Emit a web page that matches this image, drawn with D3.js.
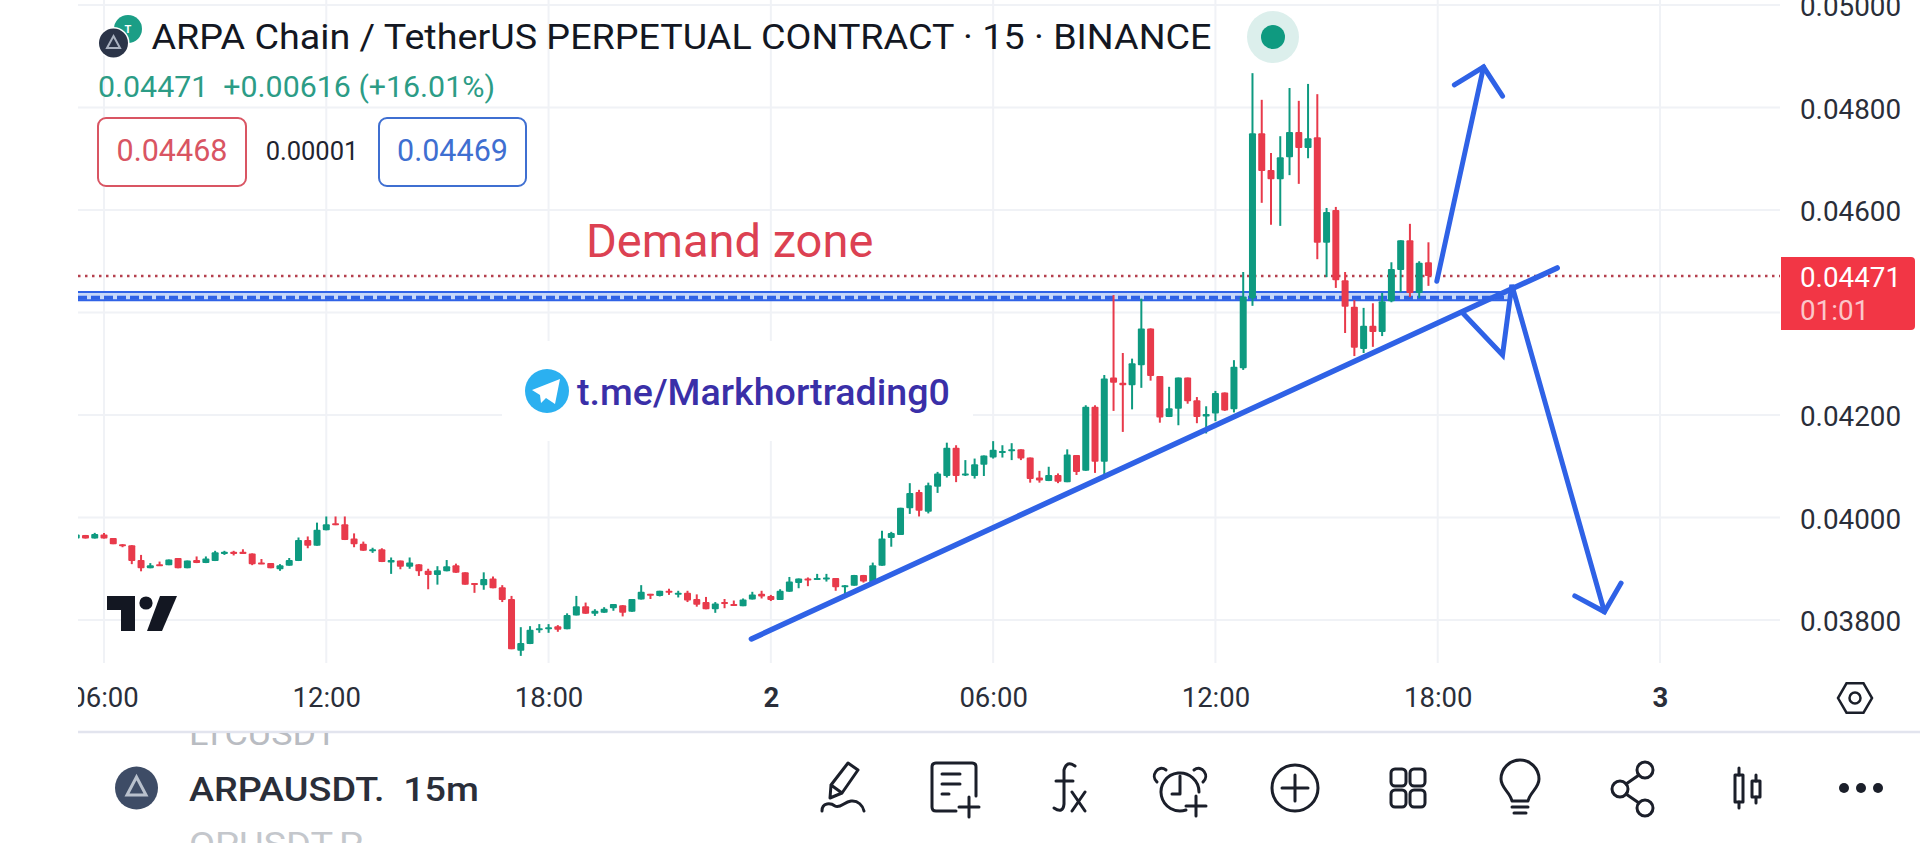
<!DOCTYPE html>
<html>
<head>
<meta charset="utf-8">
<script src="https://cdnjs.cloudflare.com/ajax/libs/d3/7.8.5/d3.min.js"></script>
<style>
  html, body { margin: 0; padding: 0; background: #fff; overflow: hidden; }
  text { font-family: Roboto, sans-serif; }
</style>
</head>
<body>
<div id="myViz"></div>
<script>
// 15m candles, first one is 05:15 on day 1
var opens = [
0.03959,0.03966,0.03959,0.03967,0.03960,0.03948,0.03946,0.03917,0.03901,0.03909,
0.03907,0.03921,0.03901,0.03917,0.03911,0.03915,0.03929,0.03933,0.03933,0.03930,
0.03912,0.03911,0.03899,0.03906,0.03915,0.03956,0.03945,0.03975,0.03989,0.03987,
0.03959,0.03949,0.03934,0.03938,0.03912,0.03916,0.03904,0.03909,0.03896,0.03888,
0.03895,0.03907,0.03893,0.03872,0.03868,0.03881,0.03864,0.03841,0.03740,0.03753,
0.03781,0.03782,0.03788,0.03782,0.03809,0.03827,0.03812,0.03814,0.03823,0.03829,
0.03816,0.03840,0.03851,0.03847,0.03857,0.03850,0.03853,0.03841,0.03835,0.03821,
0.03835,0.03831,0.03827,0.03840,0.03851,0.03847,0.03839,0.03855,0.03872,0.03881,
0.03879,0.03879,0.03882,0.03866,0.03867,0.03888,0.03873,0.03906,0.03960,0.03966,
0.04018,0.04050,0.04011,0.04060,0.04081,0.04136,0.04083,0.04081,0.04103,0.04117,
0.04128,0.04130,0.04133,0.04117,0.04078,0.04071,0.04083,0.04069,0.04122,0.04091,
0.04216,0.04109,0.04273,0.04263,0.04258,0.04297,0.04369,0.04276,0.04196,0.04212,
0.04273,0.04229,0.04197,0.04203,0.04244,0.04211,0.04291,0.04428,0.04750,0.04678,
0.04660,0.04703,0.04752,0.04721,0.04742,0.04536,0.04600,0.04463,0.04411,0.04329,
0.04374,0.04362,0.04422,0.04483,0.04541,0.04438,0.04498];

var highs = [
0.03967,0.03966,0.03970,0.03970,0.03960,0.03948,0.03946,0.03927,0.03911,0.03914,
0.03918,0.03921,0.03916,0.03924,0.03924,0.03935,0.03935,0.03935,0.03938,0.03930,
0.03919,0.03911,0.03909,0.03921,0.03961,0.03963,0.03990,0.04002,0.04002,0.04002,
0.03969,0.03953,0.03941,0.03940,0.03922,0.03916,0.03922,0.03909,0.03900,0.03905,
0.03917,0.03910,0.03893,0.03872,0.03893,0.03885,0.03868,0.03847,0.03786,0.03788,
0.03792,0.03792,0.03790,0.03813,0.03847,0.03834,0.03821,0.03825,0.03831,0.03829,
0.03841,0.03868,0.03851,0.03857,0.03861,0.03857,0.03857,0.03850,0.03845,0.03835,
0.03841,0.03838,0.03842,0.03855,0.03857,0.03849,0.03860,0.03884,0.03881,0.03883,
0.03890,0.03890,0.03882,0.03868,0.03888,0.03888,0.03912,0.03974,0.03972,0.04019,
0.04067,0.04054,0.04068,0.04089,0.04146,0.04141,0.04112,0.04115,0.04121,0.04149,
0.04141,0.04145,0.04133,0.04117,0.04091,0.04099,0.04086,0.04133,0.04122,0.04219,
0.04219,0.04278,0.04434,0.04321,0.04310,0.04427,0.04369,0.04276,0.04255,0.04273,
0.04273,0.04235,0.04217,0.04247,0.04244,0.04307,0.04479,0.04867,0.04815,0.04711,
0.04744,0.04838,0.04813,0.04846,0.04826,0.04604,0.04606,0.04479,0.04424,0.04409,
0.04418,0.04438,0.04498,0.04541,0.04573,0.04500,0.04537];

var lows = [
0.03959,0.03959,0.03959,0.03959,0.03948,0.03942,0.03909,0.03895,0.03901,0.03906,
0.03907,0.03901,0.03901,0.03911,0.03911,0.03915,0.03927,0.03926,0.03929,0.03907,
0.03909,0.03901,0.03896,0.03906,0.03915,0.03940,0.03945,0.03975,0.03985,0.03956,
0.03942,0.03935,0.03931,0.03913,0.03890,0.03899,0.03900,0.03886,0.03860,0.03869,
0.03895,0.03892,0.03869,0.03853,0.03859,0.03862,0.03835,0.03743,0.03730,0.03753,
0.03775,0.03775,0.03777,0.03782,0.03809,0.03812,0.03808,0.03814,0.03818,0.03807,
0.03816,0.03840,0.03841,0.03846,0.03849,0.03844,0.03835,0.03826,0.03821,0.03814,
0.03823,0.03828,0.03827,0.03840,0.03842,0.03837,0.03839,0.03855,0.03862,0.03866,
0.03879,0.03875,0.03857,0.03846,0.03867,0.03873,0.03873,0.03906,0.03943,0.03966,
0.04007,0.04002,0.04008,0.04048,0.04078,0.04069,0.04081,0.04076,0.04081,0.04115,
0.04117,0.04112,0.04112,0.04068,0.04068,0.04071,0.04067,0.04069,0.04083,0.04091,
0.04087,0.04080,0.04208,0.04167,0.04211,0.04253,0.04267,0.04185,0.04196,0.04180,
0.04222,0.04184,0.04164,0.04188,0.04208,0.04205,0.04288,0.04413,0.04614,0.04571,
0.04569,0.04668,0.04651,0.04701,0.04504,0.04469,0.04448,0.04360,0.04315,0.04321,
0.04333,0.04354,0.04420,0.04440,0.04430,0.04428,0.04452];

var closes = [
0.03967,0.03959,0.03968,0.03959,0.03948,0.03944,0.03915,0.03901,0.03907,0.03906,
0.03918,0.03901,0.03916,0.03911,0.03920,0.03932,0.03933,0.03929,0.03929,0.03909,
0.03909,0.03901,0.03907,0.03917,0.03956,0.03945,0.03976,0.03987,0.03985,0.03956,
0.03948,0.03935,0.03938,0.03913,0.03917,0.03904,0.03912,0.03895,0.03888,0.03897,
0.03905,0.03892,0.03869,0.03870,0.03880,0.03862,0.03839,0.03743,0.03755,0.03781,
0.03784,0.03786,0.03781,0.03810,0.03827,0.03812,0.03818,0.03822,0.03831,0.03814,
0.03841,0.03855,0.03848,0.03857,0.03853,0.03853,0.03838,0.03830,0.03821,0.03832,
0.03831,0.03828,0.03840,0.03850,0.03846,0.03839,0.03857,0.03875,0.03881,0.03878,
0.03882,0.03883,0.03864,0.03868,0.03888,0.03875,0.03907,0.03959,0.03970,0.04019,
0.04048,0.04013,0.04063,0.04086,0.04136,0.04081,0.04086,0.04104,0.04121,0.04132,
0.04130,0.04133,0.04115,0.04075,0.04072,0.04083,0.04070,0.04123,0.04089,0.04216,
0.04109,0.04271,0.04263,0.04258,0.04301,0.04369,0.04276,0.04195,0.04213,0.04273,
0.04227,0.04196,0.04202,0.04243,0.04209,0.04294,0.04431,0.04750,0.04676,0.04660,
0.04703,0.04752,0.04721,0.04740,0.04536,0.04596,0.04463,0.04411,0.04331,0.04374,
0.04362,0.04422,0.04485,0.04541,0.04438,0.04497,0.04471];

// axis ticks
var priceTicks = [0.05, 0.048, 0.046, 0.044, 0.042, 0.04, 0.038];
var priceLabels = [0.05, 0.048, 0.046, 0.042, 0.04, 0.038];
var timeHours = [6, 12, 18, 24, 30, 36, 42, 48];   // hours after 00:00 of day 1
var timeLabels = ["06:00", "12:00", "18:00", "2", "06:00", "12:00", "18:00", "3"];

// last price and header numbers
var lastPrice = 0.04471;
var zonePrices = [0.04440, 0.04424];
var zoneDash = 0.04429;
var zoneEndBar = 152;

// hand drawn lines, bars counted in 15m steps from 06:00, price on the y scale
var trendBars = [69.9, 156.9];
var trendPrices = [0.03763, 0.04487];
var upBars = [143.9, 148.95];
var upPrices = [0.04461, 0.04879];
var upWingBars = [145.8, 148.95, 151];
var upWingPrices = [0.04844, 0.04879, 0.04822];
var zigBars = [146.7, 151, 152, 162];
var zigPrices = [0.04399, 0.04317, 0.04454, 0.03816];
var downWingBars = [158.8, 162, 163.8];
var downWingPrices = [0.03847, 0.03816, 0.03872];

var width = 1920, height = 843;
var paneLeft = 78, paneRight = 1780, paneBottom = 663;
var green = "#0e9a80", red = "#e83a4b", blue = "#2f62e6", ink = "#1b1f2a";

var svg = d3.select("#myViz").append("svg")
  .attr("width", width)
  .attr("height", height)
  .style("display", "block");

var day1 = Date.UTC(2023, 5, 1);
function hourDate(h) { return new Date(day1 + h * 3600000); }
function barDate(k) { return new Date(day1 + 6 * 3600000 + k * 900000); }

var x = d3.scaleUtc()
  .domain([hourDate(6), hourDate(48)])
  .range([104, 1660]);
var y = d3.scaleLinear()
  .domain([0.038, 0.05])
  .range([620, 5]);

var bars = opens.map(function(o, i) {
  return { t: barDate(i - 3), o: o, h: highs[i], l: lows[i], c: closes[i] };
});

var defs = svg.append("defs");
defs.append("clipPath").attr("id", "pane").append("rect")
  .attr("x", paneLeft).attr("y", 0).attr("width", paneRight - paneLeft).attr("height", paneBottom);
defs.append("clipPath").attr("id", "timeClip").append("rect")
  .attr("x", paneLeft).attr("y", paneBottom).attr("width", paneRight - paneLeft).attr("height", 66);
defs.append("clipPath").attr("id", "listClip").append("rect")
  .attr("x", 0).attr("y", 733).attr("width", width).attr("height", 110);

// grid
var grid = svg.append("g").attr("stroke", "#f0f2f6").attr("stroke-width", 2);
grid.selectAll(".h").data(priceTicks).enter().append("line")
  .attr("x1", paneLeft).attr("x2", paneRight)
  .attr("y1", function(d) { return y(d); }).attr("y2", function(d) { return y(d); });
grid.selectAll(".v").data(timeHours).enter().append("line")
  .attr("x1", function(d) { return x(hourDate(d)); }).attr("x2", function(d) { return x(hourDate(d)); })
  .attr("y1", 0).attr("y2", paneBottom);

// white sticker behind the telegram link hides the grid
svg.append("rect").attr("x", 502).attr("y", 341).attr("width", 471).attr("height", 100).attr("fill", "#fff");

var pane = svg.append("g").attr("clip-path", "url(#pane)");

// last price line
pane.append("line")
  .attr("x1", paneLeft).attr("x2", paneRight)
  .attr("y1", y(lastPrice)).attr("y2", y(lastPrice))
  .attr("stroke", "#b5404e").attr("stroke-width", 2.5)
  .attr("stroke-dasharray", "2.5 4.5");

// demand zone
var zoneRight = x(barDate(zoneEndBar));
pane.append("rect")
  .attr("x", paneLeft).attr("width", zoneRight - paneLeft)
  .attr("y", y(zonePrices[0])).attr("height", y(zonePrices[1]) - y(zonePrices[0]))
  .attr("fill", "#c6d7f9");
zonePrices.forEach(function(p) {
  pane.append("line")
    .attr("x1", paneLeft).attr("x2", zoneRight)
    .attr("y1", y(p)).attr("y2", y(p))
    .attr("stroke", blue).attr("stroke-width", 2);
});
pane.append("line")
  .attr("x1", paneLeft).attr("x2", zoneRight)
  .attr("y1", y(zoneDash)).attr("y2", y(zoneDash))
  .attr("stroke", blue).attr("stroke-width", 4)
  .attr("stroke-dasharray", "9 4");

// candles
function candleColor(d) { return d.c >= d.o ? green : red; }
pane.selectAll(".wick").data(bars).enter().append("line")
  .attr("class", "wick")
  .attr("x1", function(d) { return x(d.t); }).attr("x2", function(d) { return x(d.t); })
  .attr("y1", function(d) { return y(d.h); }).attr("y2", function(d) { return y(d.l); })
  .attr("stroke", candleColor).attr("stroke-width", 2);
pane.selectAll(".body").data(bars).enter().append("rect")
  .attr("class", "body")
  .attr("x", function(d) { return x(d.t) - 3.5; })
  .attr("width", 7)
  .attr("y", function(d) { return y(Math.max(d.o, d.c)); })
  .attr("height", function(d) { return Math.max(2, Math.abs(y(d.o) - y(d.c))); })
  .attr("rx", 1)
  .attr("fill", candleColor);

// hand drawn lines
var drawing = d3.line()
  .x(function(d) { return x(barDate(d[0])); })
  .y(function(d) { return y(d[1]); });
function drawLine(barsArr, pricesArr, w) {
  svg.append("path")
    .attr("d", drawing(d3.zip(barsArr, pricesArr)))
    .attr("fill", "none")
    .attr("stroke", blue)
    .attr("stroke-width", w)
    .attr("stroke-linecap", "round")
    .attr("stroke-linejoin", "miter");
}
drawLine(trendBars, trendPrices, 5.5);
drawLine(upBars, upPrices, 5);
drawLine(upWingBars, upWingPrices, 5);
drawLine(zigBars, zigPrices, 5);
drawLine(downWingBars, downWingPrices, 5);

// tradingview logo
var tv = svg.append("g").attr("fill", "#131722");
tv.append("path").attr("d", "M107,596H135V631H121V610H107Z");
tv.append("circle").attr("cx", 146).attr("cy", 603).attr("r", 6.6);
tv.append("path").attr("d", "M160,596H177L162,631H147Z");

// price axis
var yAxis = svg.append("g")
  .attr("transform", "translate(" + paneRight + ",0)")
  .call(d3.axisRight(y).tickValues(priceLabels).tickFormat(d3.format(".5f")).tickSize(0).tickPadding(20));
yAxis.select(".domain").remove();
yAxis.selectAll("text")
  .attr("dy", ".39em")
  .style("font-family", "Roboto, sans-serif")
  .style("font-size", "27.8px")
  .attr("fill", "#2a2e39");

// time axis, clip sits on an outer group so the leftmost label gets cut at the pane edge
var xAxis = svg.append("g")
  .attr("clip-path", "url(#timeClip)")
  .append("g")
  .attr("transform", "translate(0," + paneBottom + ")")
  .call(d3.axisBottom(x)
    .tickValues(timeHours.map(hourDate))
    .tickFormat(function(d, i) { return timeLabels[i]; })
    .tickSize(0));
xAxis.select(".domain").remove();
xAxis.selectAll("text")
  .attr("y", 44).attr("dy", 0)
  .style("font-family", "Roboto, sans-serif")
  .style("font-size", "27.5px")
  .style("font-weight", function(d, i) { return timeLabels[i].length == 1 ? 700 : 400; })
  .attr("fill", "#2a2e39");

// last price tag
svg.append("path").attr("d", "M1781,257H1911Q1915,257 1915,261V326Q1915,330 1911,330H1781Z").attr("fill", "#f23645");
svg.append("text").attr("x", 1800).attr("y", 287).text(d3.format(".5f")(lastPrice))
  .attr("font-size", 27.8).attr("fill", "#fff");
svg.append("text").attr("x", 1800).attr("y", 320).text("01:01")
  .attr("font-size", 27.8).attr("fill", "#fff").attr("fill-opacity", 0.72);

// header
svg.append("circle").attr("cx", 128).attr("cy", 29).attr("r", 14).attr("fill", "#1b9e86");
svg.append("text").attr("x", 128).attr("y", 33).attr("text-anchor", "middle").attr("font-size", 11).attr("font-weight", 700).attr("fill", "#fff").text("T");
svg.append("circle").attr("cx", 113.5).attr("cy", 43).attr("r", 16).attr("fill", "#fff");
svg.append("circle").attr("cx", 113.5).attr("cy", 43).attr("r", 14.5).attr("fill", "#2b3448");
svg.append("path").attr("d", "M113.5,36L120,48H107Z").attr("fill", "none").attr("stroke", "#aab2c0").attr("stroke-width", 2);

// the phone screenshot is a bit stretched sideways, so widths are forced with textLength
function wideText(sel, len) {
  return sel.attr("textLength", len).attr("lengthAdjust", "spacingAndGlyphs");
}
wideText(svg.append("text").attr("x", 151.5).attr("y", 49).attr("font-size", 34.5).attr("fill", "#131722")
  .text("ARPA Chain / TetherUS PERPETUAL CONTRACT · 15 · BINANCE"), 1060);
svg.append("circle").attr("cx", 1273).attr("cy", 37).attr("r", 26).attr("fill", "#dcefec");
svg.append("circle").attr("cx", 1273).attr("cy", 37).attr("r", 12).attr("fill", "#0f9a80");

wideText(svg.append("text").attr("x", 98).attr("y", 97).attr("font-size", 30).attr("fill", "#2c9c86")
  .attr("xml:space", "preserve").text("0.04471  +0.00616 (+16.01%)"), 397);

svg.append("rect").attr("x", 98).attr("y", 118).attr("width", 148).attr("height", 68).attr("rx", 8)
  .attr("fill", "#fff").attr("stroke", "#d95563").attr("stroke-width", 2);
svg.append("text").attr("x", 172).attr("y", 161).attr("text-anchor", "middle").attr("font-size", 30.5).attr("fill", "#d95563").text("0.04468");
svg.append("text").attr("x", 312).attr("y", 160).attr("text-anchor", "middle").attr("font-size", 25.5).attr("fill", "#1f2430").text("0.00001");
svg.append("rect").attr("x", 379).attr("y", 118).attr("width", 147).attr("height", 68).attr("rx", 8)
  .attr("fill", "#fff").attr("stroke", "#3f6fd1").attr("stroke-width", 2);
svg.append("text").attr("x", 452.5).attr("y", 161).attr("text-anchor", "middle").attr("font-size", 30.5).attr("fill", "#3f6fd1").text("0.04469");

// overlay texts
svg.append("text").attr("x", 586).attr("y", 257).attr("font-size", 47).attr("fill", "#dc4152").text("Demand zone");
svg.append("circle").attr("cx", 547).attr("cy", 391).attr("r", 22).attr("fill", "#2bb0f0");
svg.append("path").attr("d", "M532,390L560,379L555,404L546,398L541,403L540,395Z").attr("fill", "#fff");
wideText(svg.append("text").attr("x", 577).attr("y", 405).attr("font-size", 36.5).attr("font-weight", 500).attr("fill", "#3a2fa8")
  .text("t.me/Markhortrading0"), 373);

// settings hexagon
var hexPts = d3.range(6).map(function(i) {
  var a = Math.PI / 3 * i;
  return [1855 + 17 * Math.cos(a), 698 + 17 * Math.sin(a)];
});
svg.append("path").attr("d", d3.line()(hexPts) + "Z").attr("fill", "none").attr("stroke", ink).attr("stroke-width", 2.5);
svg.append("circle").attr("cx", 1855).attr("cy", 698).attr("r", 5.5).attr("fill", "none").attr("stroke", ink).attr("stroke-width", 2.5);

// bottom bar
svg.append("line").attr("x1", paneLeft).attr("x2", width).attr("y1", 732).attr("y2", 732)
  .attr("stroke", "#e2e4ee").attr("stroke-width", 2.5);
var list = svg.append("g").attr("clip-path", "url(#listClip)");
wideText(list.append("text").attr("x", 189).attr("y", 745).attr("font-size", 33).attr("fill", "#b9bcc2").text("LTCUSDT"), 148);
wideText(list.append("text").attr("x", 189).attr("y", 856).attr("font-size", 33).attr("fill", "#c4c7cc").text("OPUSDT.P"), 174);

svg.append("circle").attr("cx", 136.5).attr("cy", 788).attr("r", 21.5).attr("fill", "#3e4c66");
svg.append("path").attr("d", "M136.5,777L146,795H127Z").attr("fill", "none").attr("stroke", "#b9c1cd").attr("stroke-width", 3);
wideText(svg.append("text").attr("x", 189).attr("y", 801).attr("font-size", 34).attr("font-weight", 500).attr("fill", "#2a2e39")
  .attr("xml:space", "preserve").text("ARPAUSDT.  15m"), 290);

// toolbar icons, each one around its own centre
function icon(cx, cy) {
  return svg.append("g")
    .attr("transform", "translate(" + cx + "," + cy + ")")
    .attr("fill", "none")
    .attr("stroke", ink)
    .attr("stroke-width", 3)
    .attr("stroke-linecap", "round")
    .attr("stroke-linejoin", "round");
}
var pen = icon(843, 788);
pen.append("path").attr("d", "M-12,-3L5,-25L15,-18L-1,5L-13,10Z M-12,-3L-1,5");
pen.append("path").attr("d", "M-21,23C-21,14 -12,15 -8,18C-3,21 1,14 8,13C15,12 20,18 21,23");

var note = icon(954, 787);
note.append("path").attr("d", "M22,9V-20Q22,-24 18,-24H-18Q-22,-24 -22,-20V20Q-22,24 -18,24H2");
note.append("path").attr("d", "M-12,-13H6M-12,-3H6M-12,7H-5M15,10V30M5,20H25");

var fx = icon(1067, 788);
fx.append("path").attr("d", "M8,-22Q0,-28 -3,-18V16Q-4,26 -13,20M-11,-7H6M5,4L18,23M18,4L5,23");

var alarm = icon(1180, 788);
alarm.append("path").attr("d", "M6,22A19,19 0 1 1 19,4");
alarm.append("path").attr("d", "M-14,-18C-22,-24 -30,-12 -23,-6M14,-18C22,-24 30,-12 23,-6");
alarm.append("path").attr("d", "M0,-12V6H-8M16,8V28M6,18H26");

var plus = icon(1295, 788);
plus.append("circle").attr("r", 23);
plus.append("path").attr("d", "M0,-13V13M-13,0H13");

var gridIcon = icon(1408, 788);
gridIcon.selectAll("rect").data([[-17, -19], [2, -19], [-17, 2], [2, 2]]).enter().append("rect")
  .attr("x", function(d) { return d[0]; }).attr("y", function(d) { return d[1]; })
  .attr("width", 15).attr("height", 17).attr("rx", 4);

var bulb = icon(1520, 786);
bulb.append("path").attr("d", "M-8,15C-10,6 -19,2 -19,-7A19,19 0 1 1 19,-7C19,2 10,6 8,15Z");
bulb.append("path").attr("d", "M-8,21H8M-6,27H6");

var share = icon(1635, 788);
share.append("circle").attr("cx", 10).attr("cy", -18).attr("r", 8);
share.append("circle").attr("cx", -15).attr("cy", 1).attr("r", 8);
share.append("circle").attr("cx", 10).attr("cy", 20).attr("r", 8);
share.append("path").attr("d", "M4,-13L-9,-4M-9,6L4,15");

var sticks = icon(1748, 788);
sticks.append("rect").attr("x", -13).attr("y", -13).attr("width", 8).attr("height", 27);
sticks.append("rect").attr("x", 4).attr("y", -7).attr("width", 8).attr("height", 16);
sticks.append("path").attr("d", "M-9,-20V-13M-9,14V20M8,-13V-7M8,9V15");

svg.selectAll(".dot").data([1844, 1861, 1878]).enter().append("circle")
  .attr("cx", function(d) { return d; }).attr("cy", 788).attr("r", 5).attr("fill", ink);
</script>
</body>
</html>
